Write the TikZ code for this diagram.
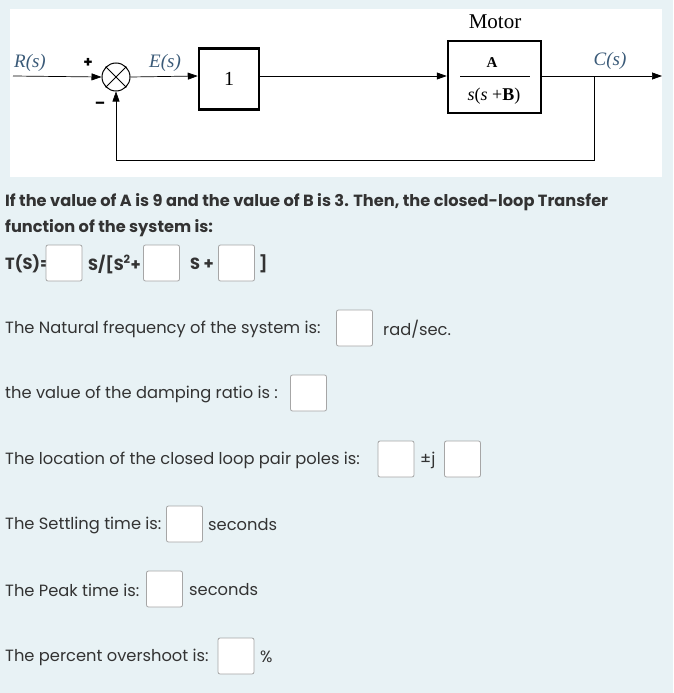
\documentclass[tikz,border=0pt]{standalone}
\usepackage{fontspec}
\setmainfont{Poppins}
\newfontfamily\serif{Liberation Serif}
\usetikzlibrary{arrows.meta}
\definecolor{bg}{HTML}{E8F2F5}
\definecolor{lab}{HTML}{3A5A78}
\definecolor{txt}{HTML}{333333}
\begin{document}
\begin{tikzpicture}[x=1pt,y=-1pt,
  ans/.style={draw=gray!70,fill=white,rounded corners=2pt,minimum width=36pt,minimum height=36pt,line width=0.8pt},
  q/.style={anchor=west,text=txt,font=\fontsize{16.3}{18}\selectfont,inner sep=0},
  qb/.style={q,font=\fontsize{16.2}{18}\selectfont\bfseries},
  sig/.style={text=lab,font=\serif\itshape\fontsize{19}{21}\selectfont},
  blk/.style={draw,line width=2.5pt},
  arr/.style={-{Triangle[length=10pt,width=7pt]},line width=0.7pt}]
\fill[bg] (0,0) rectangle (673,693);
\fill[white] (10,9) rectangle (662,177);
% diagram
\coordinate (in) at (13,76);
\node[draw,circle,minimum size=28pt,inner sep=0,line width=1pt] (sum) at (116,77) {};
\draw[line width=1pt] (sum.north west)--(sum.south east) (sum.north east)--(sum.south west);
\node[blk,minimum width=60pt,minimum height=61pt,font=\serif\fontsize{20}{22}\selectfont] (g1) at (229,79) {1};
\node[blk,minimum width=93pt,minimum height=72pt] (mot) at (494.5,77) {};
\node[font=\serif\bfseries\fontsize{15}{17}\selectfont] at (492,63) {A};
\draw[line width=0.7pt] (460,76)--(530,76);
\node[font=\serif\fontsize{18}{20}\selectfont] at (494,96) {\textit{s}(\textit{s} +\textbf{B})};
\node[font=\serif\fontsize{21}{23}\selectfont] at (495,22) {Motor};
\coordinate (out) at (662,76);
\coordinate (br) at (594,76);
\coordinate (b1) at (594,160);
\coordinate (b2) at (116,160);
\draw[arr] (in) -- (sum.west);
\draw[arr] (sum.east) -- (g1.west |- 0,76);
\draw[arr] (g1.east |- 0,76) -- (mot.west |- 0,76);
\draw[arr] (mot.east |- 0,76) -- (out);
\draw[arr,line width=0.6pt] (br) -- (b1) -- (b2) -- (sum.south);
\node[sig] at (30,63) {R(s)};
\node[sig] at (165,63) {E(s)};
\node[sig] at (610,61) {C(s)};
\node[font=\fontsize{15}{17}\selectfont\bfseries] at (88,63) {+};
\node[font=\fontsize{15}{17}\selectfont\bfseries] at (100,105) {--};
% questions
\node[qb] at (5,202) {If the value of A is 9 and the value of B is 3. Then, the closed-loop Transfer};
\node[qb] at (5,228) {function of the system is:};
\node[qb] at (5,264) {T(S)=};
\node[ans] (t1) at (64,263) {};
\node[qb] at (88,264) {S/[S\textsuperscript{2}+};
\node[ans] (t2) at (161.5,263) {};
\node[qb] at (190,264) {S +};
\node[ans] (t3) at (236.5,263) {};
\node[qb] at (259,264) {]};
\node[q] at (5,329) {The Natural frequency of the system is:};
\node[ans] (wn) at (354.5,328) {};
\node[q] at (383,329) {rad/sec.};
\node[q] at (5,394) {the value of the damping ratio is :};
\node[ans] (z) at (308.5,393) {};
\node[q] at (5,460) {The location of the closed loop pair poles is:};
\node[ans] (p1) at (396,459) {};
\node[q] at (420,460) {±j};
\node[ans] (p2) at (462.5,459) {};
\node[q] at (5,525) {The Settling time is:};
\node[ans] (ts) at (184.5,524) {};
\node[q] at (208,525) {seconds};
\node[q] at (5,590) {The Peak time is:};
\node[ans] (tp) at (164.5,589) {};
\node[q] at (189,590) {seconds};
\node[q] at (5,657) {The percent overshoot is:};
\node[ans] (po) at (236,656) {};
\node[q] at (260,657) {\%};
\end{tikzpicture}
\end{document}
